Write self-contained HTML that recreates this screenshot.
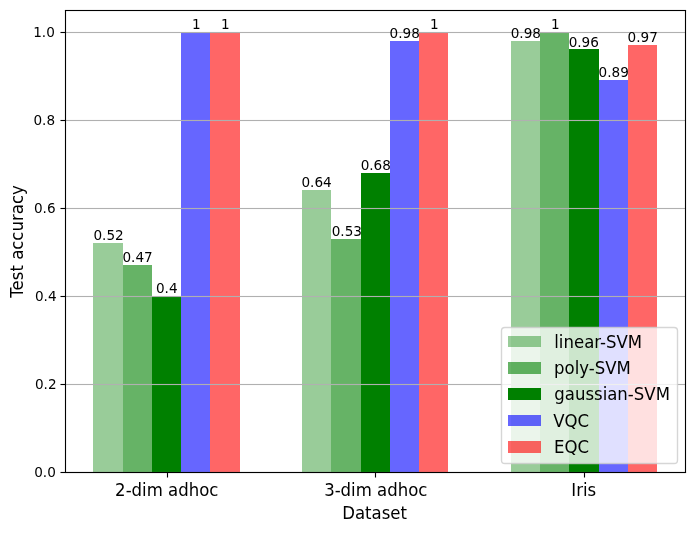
<!DOCTYPE html>
<html lang="en"><head><meta charset="utf-8"><title>Test accuracy by dataset</title>
<style>
html,body{margin:0;padding:0;background:#fff;overflow:hidden}
svg{display:block}
text{font-family:"DejaVu Sans","Liberation Sans",sans-serif;fill:#000}
.a{font-size:16.667px}
.b{font-size:13.889px}
.tk{fill:#000}
.gr{fill:#b0b0b0}
.sp{fill:#000}
.e{fill-opacity:0.056}
</style></head><body>
<svg width="695" height="533" viewBox="0 0 695 533">
<rect width="695" height="533" fill="#fff"/>
<g id="bars"><rect x="93" y="243" width="30" height="229" fill="#008000" opacity="0.4"/>
<rect x="302" y="190" width="29" height="282" fill="#008000" opacity="0.4"/>
<rect x="511" y="41" width="29" height="431" fill="#008000" opacity="0.4"/>
<rect x="123" y="265" width="29" height="207" fill="#008000" opacity="0.6"/>
<rect x="331" y="239" width="30" height="233" fill="#008000" opacity="0.6"/>
<rect x="540" y="32" width="29" height="440" fill="#008000" opacity="0.6"/>
<rect x="152" y="296" width="29" height="176" fill="#008000"/>
<rect x="361" y="173" width="29" height="299" fill="#008000"/>
<rect x="569" y="49" width="30" height="423" fill="#008000"/>
<rect x="181" y="32" width="29" height="440" fill="#0000ff" opacity="0.6"/>
<rect x="390" y="41" width="29" height="431" fill="#0000ff" opacity="0.6"/>
<rect x="599" y="80" width="29" height="392" fill="#0000ff" opacity="0.6"/>
<rect x="210" y="32" width="30" height="440" fill="#ff0000" opacity="0.6"/>
<rect x="419" y="32" width="29" height="440" fill="#ff0000" opacity="0.6"/>
<rect x="628" y="45" width="29" height="427" fill="#ff0000" opacity="0.6"/></g>
<g id="axis"><rect x="166.944" y="472.5" width="1.111" height="5" class="tk"/>
<rect x="374.944" y="472.5" width="1.111" height="5" class="tk"/>
<rect x="583.944" y="472.5" width="1.111" height="5" class="tk"/>
<rect x="65.5" y="472" width="620" height="1" class="gr"/><rect x="65.5" y="471" width="620" height="3" class="gr e"/>
<rect x="60.5" y="472" width="5" height="1" class="tk"/><rect x="60.5" y="471" width="5" height="3" class="tk e"/>
<rect x="65.5" y="384" width="620" height="1" class="gr"/><rect x="65.5" y="383" width="620" height="3" class="gr e"/>
<rect x="60.5" y="384" width="5" height="1" class="tk"/><rect x="60.5" y="383" width="5" height="3" class="tk e"/>
<rect x="65.5" y="296" width="620" height="1" class="gr"/><rect x="65.5" y="295" width="620" height="3" class="gr e"/>
<rect x="60.5" y="296" width="5" height="1" class="tk"/><rect x="60.5" y="295" width="5" height="3" class="tk e"/>
<rect x="65.5" y="208" width="620" height="1" class="gr"/><rect x="65.5" y="207" width="620" height="3" class="gr e"/>
<rect x="60.5" y="208" width="5" height="1" class="tk"/><rect x="60.5" y="207" width="5" height="3" class="tk e"/>
<rect x="65.5" y="120" width="620" height="1" class="gr"/><rect x="65.5" y="119" width="620" height="3" class="gr e"/>
<rect x="60.5" y="120" width="5" height="1" class="tk"/><rect x="60.5" y="119" width="5" height="3" class="tk e"/>
<rect x="65.5" y="32" width="620" height="1" class="gr"/><rect x="65.5" y="31" width="620" height="3" class="gr e"/>
<rect x="60.5" y="32" width="5" height="1" class="tk"/><rect x="60.5" y="31" width="5" height="3" class="tk e"/>
<rect x="64.944" y="10" width="1.111" height="463" class="sp"/>
<rect x="684.944" y="10" width="1.111" height="463" class="sp"/>
<rect x="64.944" y="10" width="621.111" height="1" class="sp"/><rect x="64.944" y="9" width="621.111" height="3" class="sp e"/>
<rect x="64.944" y="472" width="621.111" height="1" class="sp"/><rect x="64.944" y="471" width="621.111" height="3" class="sp e"/></g>
<g id="labels"><text class="a" text-anchor="middle" transform="translate(166.774 495.694) scale(0.993 1.06)">2-dim adhoc</text>
<text class="a" text-anchor="middle" transform="translate(375.778 495.694) scale(0.993 1.06)">3-dim adhoc</text>
<text class="a" text-anchor="middle" transform="translate(583.782 495.694) scale(0.993 1.06)">Iris</text>
<text class="b" text-anchor="end" transform="translate(55.806 476.722) scale(0.98 1.015)">0.0</text>
<text class="b" text-anchor="end" transform="translate(56.556 388.722) scale(0.98 1.015)">0.2</text>
<text class="b" text-anchor="end" transform="translate(56.556 300.722) scale(0.98 1.015)">0.4</text>
<text class="b" text-anchor="end" transform="translate(55.556 212.722) scale(0.98 1.015)">0.6</text>
<text class="b" text-anchor="end" transform="translate(55.056 124.722) scale(0.98 1.015)">0.8</text>
<text class="b" text-anchor="end" transform="translate(54.806 36.722) scale(0.98 1.015)">1.0</text>
<text class="a" text-anchor="middle" transform="translate(374.528 518.5) scale(0.993 1.06)">Dataset</text>
<text class="a" text-anchor="middle" transform="translate(22.5 241.472) rotate(-90) scale(0.993 1.06)">Test accuracy</text>
<text class="b" text-anchor="middle" transform="translate(108.572 239.672) scale(0.98 1.015)">0.52</text>
<text class="b" text-anchor="middle" transform="translate(316.577 186.622) scale(0.98 1.015)">0.64</text>
<text class="b" text-anchor="middle" transform="translate(525.831 37.522) scale(0.98 1.015)">0.98</text>
<text class="b" text-anchor="middle" transform="translate(137.548 261.672) scale(0.98 1.015)">0.47</text>
<text class="b" text-anchor="middle" transform="translate(346.802 235.522) scale(0.98 1.015)">0.53</text>
<text class="b" text-anchor="middle" transform="translate(555.306 28.722) scale(0.98 1.015)">1</text>
<text class="b" text-anchor="middle" transform="translate(166.774 292.722) scale(0.98 1.015)">0.4</text>
<text class="b" text-anchor="middle" transform="translate(375.778 169.522) scale(0.98 1.015)">0.68</text>
<text class="b" text-anchor="middle" transform="translate(583.782 46.572) scale(0.98 1.015)">0.96</text>
<text class="b" text-anchor="middle" transform="translate(196.249 28.722) scale(0.98 1.015)">1</text>
<text class="b" text-anchor="middle" transform="translate(404.753 37.522) scale(0.98 1.015)">0.98</text>
<text class="b" text-anchor="middle" transform="translate(613.758 76.622) scale(0.98 1.015)">0.89</text>
<text class="b" text-anchor="middle" transform="translate(225.225 28.722) scale(0.98 1.015)">1</text>
<text class="b" text-anchor="middle" transform="translate(434.229 28.722) scale(0.98 1.015)">1</text>
<text class="b" text-anchor="middle" transform="translate(642.733 41.672) scale(0.98 1.015)">0.97</text></g>
<g id="legend"><rect x="501.5" y="327.5" width="176" height="136" rx="3.333" ry="3.333" fill="#fff" fill-opacity="0.8" stroke="#ccc" stroke-opacity="0.8" stroke-width="1.389"/>
<rect x="508" y="336" width="33" height="11" fill="#008000" opacity="0.4"/>
<rect x="508" y="362" width="33" height="12" fill="#008000" opacity="0.6"/>
<rect x="508" y="388" width="33" height="12" fill="#008000"/>
<rect x="508" y="415" width="33" height="11" fill="#0000ff" opacity="0.6"/>
<rect x="508" y="441" width="33" height="12" fill="#ff0000" opacity="0.6"/>
<text class="a" transform="translate(554.278 347.639) scale(0.993 1.06)">linear-SVM</text>
<text class="a" transform="translate(554.028 373.722) scale(0.993 1.06)">poly-SVM</text>
<text class="a" transform="translate(554.278 399.556) scale(0.993 1.06)">gaussian-SVM</text>
<text class="a" transform="translate(553.278 426.639) scale(0.993 1.06)">VQC</text>
<text class="a" transform="translate(554.028 452.722) scale(0.993 1.06)">EQC</text></g>
</svg>
</body></html>
